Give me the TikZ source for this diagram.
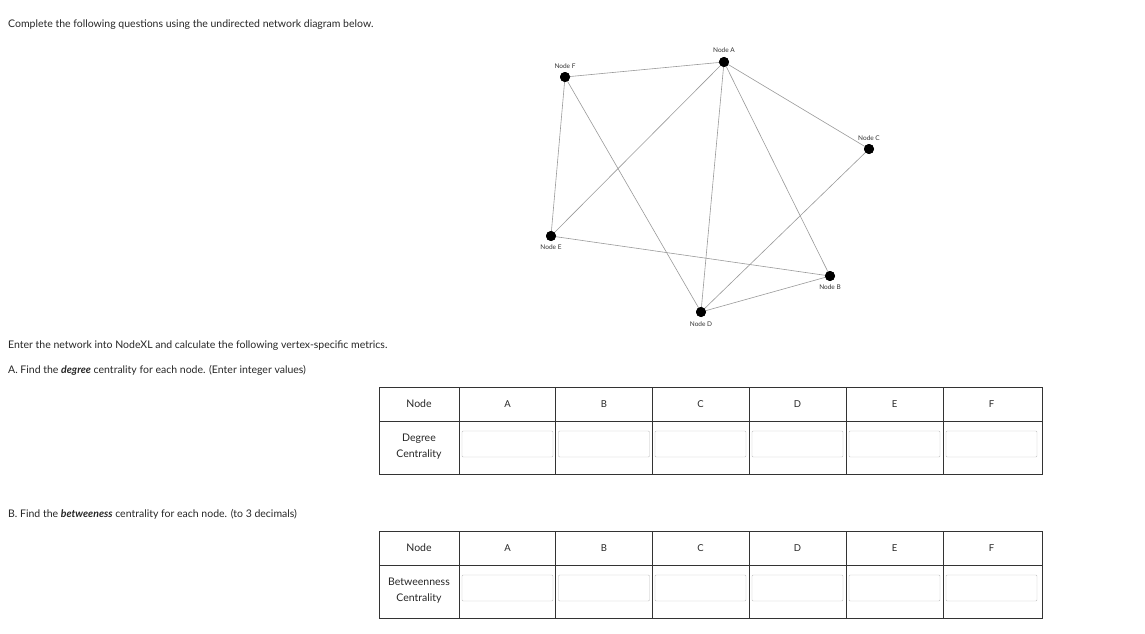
\documentclass[tikz,border=0pt]{standalone}
\usepackage{fontspec}
\setmainfont{Lato}
\begin{document}
\begin{tikzpicture}[x=1pt,y=-1pt,
  dot/.style={circle,fill=black,inner sep=0pt,minimum size=10pt},
  lab/.style={font=\fontsize{6.5}{7}\selectfont,text=black!80},
  edge/.style={draw=black!40,line width=0.6pt},
  txt/.style={anchor=west,font=\fontsize{10.5}{12}\selectfont,text=black!85,inner sep=0pt},
  cell/.style={font=\fontsize{10.5}{16}\selectfont,text=black!85,align=center},
  inbox/.style={draw=black!25,rounded corners=1pt}]
\useasboundingbox (0,0) rectangle (1145,634);
\node[txt] (t1) at (8,25) {Complete the following questions using the undirected network diagram below.};
\node[txt] (t2) at (8,346) {Enter the network into NodeXL and calculate the following vertex-specific metrics.};
\node[txt] (t3) at (8,370) {A. Find the \textbf{\textit{degree}} centrality for each node. (Enter integer values)};
\node[txt] (t4) at (8,514) {B. Find the \textbf{\textit{betweeness}} centrality for each node. (to 3 decimals)};
% graph
\node[dot] (A) at (724,62) {};
\node[dot] (F) at (565,77) {};
\node[dot] (C) at (869,149) {};
\node[dot] (E) at (551,236) {};
\node[dot] (B) at (830,276) {};
\node[dot] (D) at (701,312) {};
\node[lab] (lA) at (724,50) {Node A};
\node[lab] (lF) at (565,66) {Node F};
\node[lab] (lC) at (869,138) {Node C};
\node[lab] (lE) at (551,247) {Node E};
\node[lab] (lB) at (830,287) {Node B};
\node[lab] (lD) at (701,324) {Node D};
\foreach \u/\v in {F/A,F/E,F/D,A/E,A/D,A/B,A/C,E/B,C/D,D/B}
  \draw[edge] (\u.center) -- (\v.center);
\foreach \n in {A,F,C,E,B,D}
  \fill (\n.center) circle (5);
% tables
\foreach \ty/\lab in {387/{Degree\\Centrality},531/{Betweenness\\Centrality}}{
  \draw[black!80,line width=0.8pt] (379,\ty) rectangle (1042,\ty+87);
  \draw[black!80,line width=0.6pt] (379,\ty+34) -- (1042,\ty+34);
  \foreach \xx in {459,555.5,652,749,846,943}
    \draw[black!80,line width=0.6pt] (\xx,\ty) -- (\xx,\ty+87);
  \node[cell] at (419,\ty+17) {Node};
  \node[cell] at (419,\ty+60) {\lab};
  \foreach \c/\xx in {A/459,B/555.5,C/652,D/749,E/846,F/943}{
    \node[cell,font=\fontsize{9.5}{10}\selectfont] at (\xx+48.5,\ty+17) {\c};
    \draw[inbox] (\xx+3,\ty+44) rectangle (\xx+94,\ty+70);
  }
}
\end{tikzpicture}
\end{document}
